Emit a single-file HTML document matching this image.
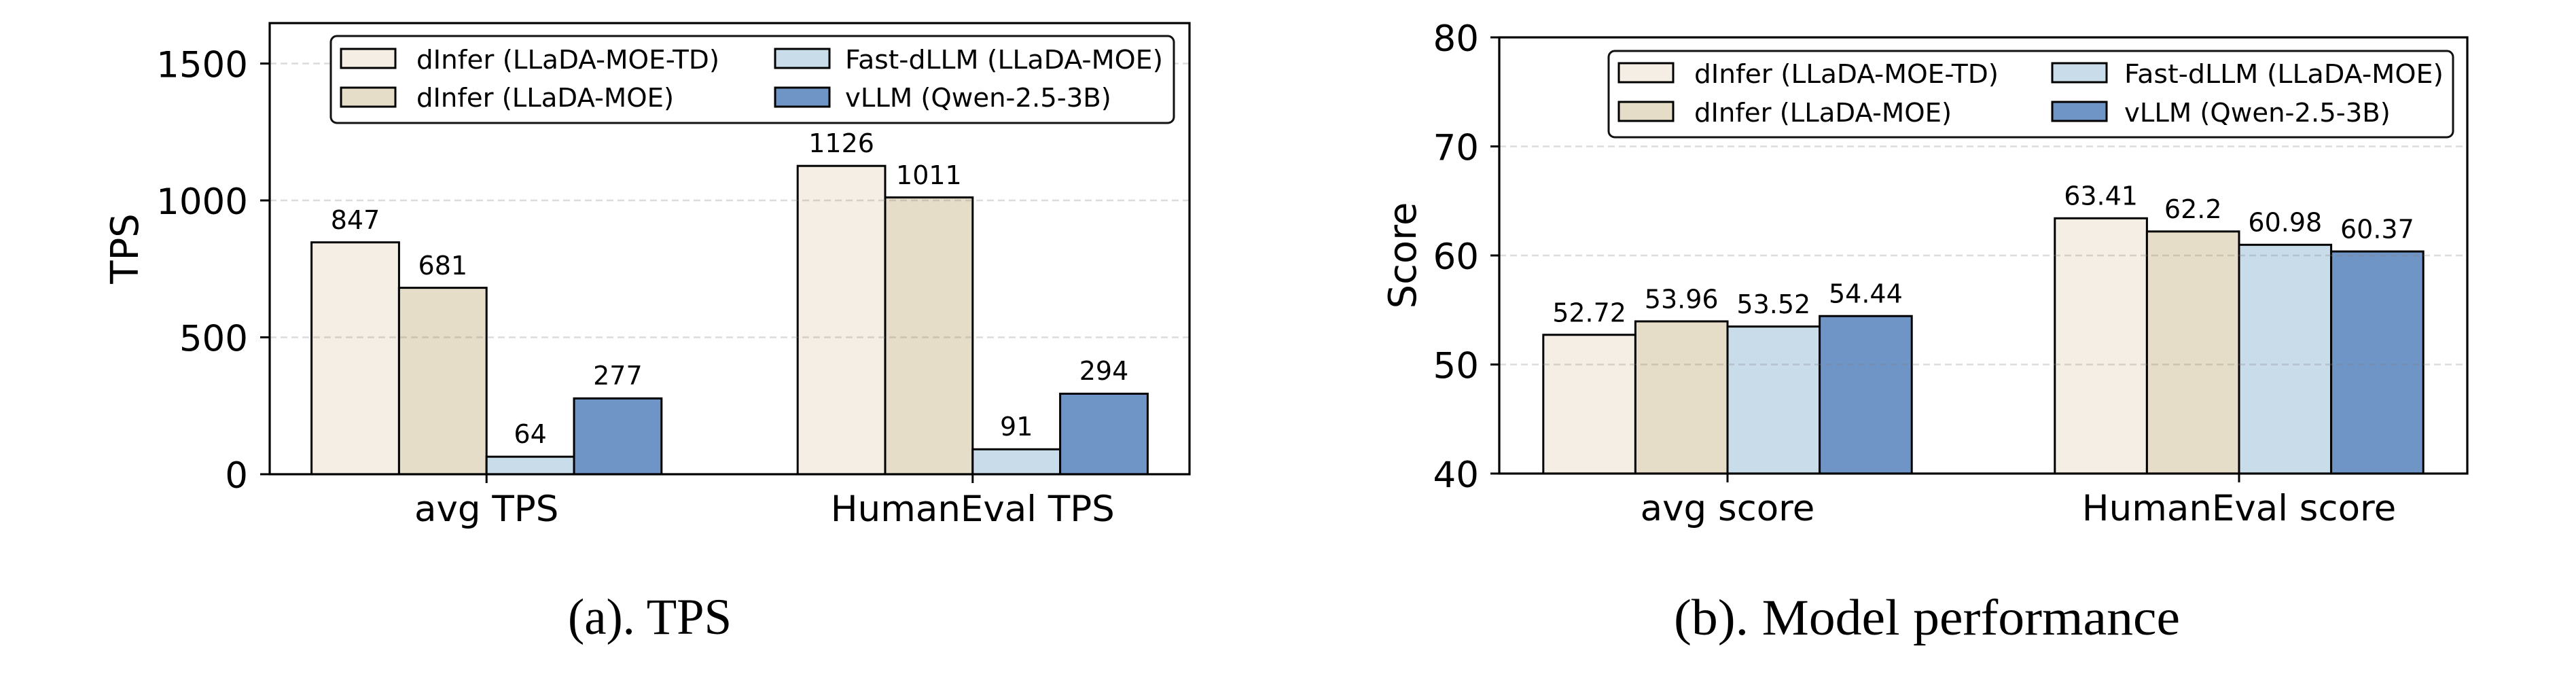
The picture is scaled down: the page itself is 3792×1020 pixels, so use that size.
<!DOCTYPE html>
<html>
<head>
<meta charset="utf-8">
<style>
  html, body { margin: 0; padding: 0; background: #ffffff; }
  svg { display: block; }
  .tk { font-family: "DejaVu Sans", "Liberation Sans", sans-serif; font-size: 53px; fill: #000; }
  .lab { font-family: "DejaVu Sans", "Liberation Sans", sans-serif; font-size: 56px; fill: #000; }
  .val { font-family: "DejaVu Sans", "Liberation Sans", sans-serif; font-size: 38px; fill: #000; text-anchor: middle; }
  .leg { font-family: "DejaVu Sans", "Liberation Sans", sans-serif; font-size: 38.6px; fill: #000; }
  .cap { font-family: "Liberation Serif", "DejaVu Serif", serif; font-size: 75px; fill: #000; }
  .grid { stroke: #808080; stroke-opacity: 0.28; stroke-width: 2.5; stroke-dasharray: 10 6; }
  .bar { stroke: #000; stroke-width: 3; }
  .c1 { fill: #f4eee4; } .c2 { fill: #e5ddc8; } .c3 { fill: #c9dcea; } .c4 { fill: #6f94c6; }
</style>
</head>
<body>
<svg width="3792" height="1020" viewBox="0 0 3792 1020" xmlns="http://www.w3.org/2000/svg">
  <rect x="0" y="0" width="3792" height="1020" fill="#fff"/>

  <!-- ================= LEFT CHART ================= -->
  <!-- bars group 0 -->
  <rect class="bar c1" x="458.6" y="356.7" width="128.8" height="341.3"/>
  <rect class="bar c2" x="587.4" y="423.6" width="128.8" height="274.4"/>
  <rect class="bar c3" x="716.2" y="672.2" width="128.8" height="25.8"/>
  <rect class="bar c4" x="845.0" y="586.4" width="128.8" height="111.6"/>
  <!-- bars group 1 -->
  <rect class="bar c1" x="1174.2" y="244.2" width="128.8" height="453.8"/>
  <rect class="bar c2" x="1303.0" y="290.6" width="128.8" height="407.4"/>
  <rect class="bar c3" x="1431.8" y="661.3" width="128.8" height="36.7"/>
  <rect class="bar c4" x="1560.6" y="579.5" width="128.8" height="118.5"/>

  <!-- grid -->
  <line class="grid" x1="397" y1="496.5" x2="1751" y2="496.5"/>
  <line class="grid" x1="397" y1="295" x2="1751" y2="295"/>
  <line class="grid" x1="397" y1="93.5" x2="1751" y2="93.5"/>

  <!-- value labels -->
  <text class="val" x="523" y="337">847</text>
  <text class="val" x="651.8" y="404">681</text>
  <text class="val" x="780.6" y="652">64</text>
  <text class="val" x="909.4" y="566">277</text>
  <text class="val" x="1238.6" y="224">1126</text>
  <text class="val" x="1367.4" y="271">1011</text>
  <text class="val" x="1496.2" y="641">91</text>
  <text class="val" x="1625" y="559">294</text>

  <!-- legend -->
  <rect x="487" y="53" width="1241" height="128" rx="9" ry="9" fill="#fff" fill-opacity="0.92" stroke="#111" stroke-width="3"/>
  <rect class="bar c1" x="502" y="72" width="80" height="28"/>
  <rect class="bar c2" x="502" y="129" width="80" height="28"/>
  <rect class="bar c3" x="1141" y="72" width="80" height="28"/>
  <rect class="bar c4" x="1141" y="129" width="80" height="28"/>
  <text class="leg" x="613" y="101" textLength="446" lengthAdjust="spacingAndGlyphs">dInfer (LLaDA-MOE-TD)</text>
  <text class="leg" x="613" y="157">dInfer (LLaDA-MOE)</text>
  <text class="leg" x="1244" y="101" textLength="468" lengthAdjust="spacingAndGlyphs">Fast-dLLM (LLaDA-MOE)</text>
  <text class="leg" x="1244" y="157">vLLM (Qwen-2.5-3B)</text>

  <!-- frame -->
  <rect x="397" y="34" width="1354" height="664" fill="none" stroke="#000" stroke-width="3.2"/>

  <!-- ticks -->
  <g stroke="#000" stroke-width="3">
    <line x1="383" y1="698" x2="397" y2="698"/>
    <line x1="383" y1="496.5" x2="397" y2="496.5"/>
    <line x1="383" y1="295" x2="397" y2="295"/>
    <line x1="383" y1="93.5" x2="397" y2="93.5"/>
    <line x1="716.2" y1="698" x2="716.2" y2="711"/>
    <line x1="1431.8" y1="698" x2="1431.8" y2="711"/>
  </g>
  <g class="tk" text-anchor="end">
    <text x="365" y="718">0</text>
    <text x="365" y="516.5">500</text>
    <text x="365" y="315">1000</text>
    <text x="365" y="113.5">1500</text>
  </g>
  <g class="tk" text-anchor="middle">
    <text x="716.2" y="767">avg TPS</text>
    <text x="1431.8" y="767">HumanEval TPS</text>
  </g>
  <text class="lab" text-anchor="middle" transform="translate(203,366) rotate(-90)">TPS</text>

  <text class="cap" x="836" y="933" textLength="241" lengthAdjust="spacingAndGlyphs">(a). TPS</text>

  <!-- ================= RIGHT CHART ================= -->
  <!-- bars group 0 -->
  <rect class="bar c1" x="2271.8" y="492.8" width="135.6" height="204.2"/>
  <rect class="bar c2" x="2407.4" y="473.0" width="135.6" height="224.0"/>
  <rect class="bar c3" x="2543.0" y="480.6" width="135.6" height="216.4"/>
  <rect class="bar c4" x="2678.6" y="465.2" width="135.6" height="231.8"/>
  <!-- bars group 1 -->
  <rect class="bar c1" x="3024.8" y="321.3" width="135.6" height="375.7"/>
  <rect class="bar c2" x="3160.4" y="340.7" width="135.6" height="356.3"/>
  <rect class="bar c3" x="3296.0" y="360.3" width="135.6" height="336.7"/>
  <rect class="bar c4" x="3431.6" y="370.1" width="135.6" height="326.9"/>

  <!-- grid -->
  <line class="grid" x1="2207" y1="536.5" x2="3632" y2="536.5"/>
  <line class="grid" x1="2207" y1="376" x2="3632" y2="376"/>
  <line class="grid" x1="2207" y1="215.5" x2="3632" y2="215.5"/>

  <!-- value labels -->
  <text class="val" x="2339.6" y="473.5">52.72</text>
  <text class="val" x="2475.2" y="453.5">53.96</text>
  <text class="val" x="2610.8" y="461">53.52</text>
  <text class="val" x="2746.4" y="445.5">54.44</text>
  <text class="val" x="3092.6" y="301.5">63.41</text>
  <text class="val" x="3228.2" y="321">62.2</text>
  <text class="val" x="3363.8" y="340.5">60.98</text>
  <text class="val" x="3499.4" y="350.5">60.37</text>

  <!-- legend -->
  <rect x="2368" y="75" width="1243" height="127" rx="9" ry="9" fill="#fff" fill-opacity="0.92" stroke="#111" stroke-width="3"/>
  <rect class="bar c1" x="2383" y="93" width="80" height="28"/>
  <rect class="bar c2" x="2383" y="150" width="80" height="28"/>
  <rect class="bar c3" x="3021" y="93" width="80" height="28"/>
  <rect class="bar c4" x="3021" y="150" width="80" height="28"/>
  <text class="leg" x="2494" y="122" textLength="448" lengthAdjust="spacingAndGlyphs">dInfer (LLaDA-MOE-TD)</text>
  <text class="leg" x="2494" y="179">dInfer (LLaDA-MOE)</text>
  <text class="leg" x="3127" y="122" textLength="470" lengthAdjust="spacingAndGlyphs">Fast-dLLM (LLaDA-MOE)</text>
  <text class="leg" x="3127" y="179">vLLM (Qwen-2.5-3B)</text>

  <!-- frame -->
  <rect x="2207" y="55" width="1425" height="642" fill="none" stroke="#000" stroke-width="3.2"/>

  <!-- ticks -->
  <g stroke="#000" stroke-width="3">
    <line x1="2194" y1="697" x2="2207" y2="697"/>
    <line x1="2194" y1="536.5" x2="2207" y2="536.5"/>
    <line x1="2194" y1="376" x2="2207" y2="376"/>
    <line x1="2194" y1="215.5" x2="2207" y2="215.5"/>
    <line x1="2194" y1="55" x2="2207" y2="55"/>
    <line x1="2543" y1="697" x2="2543" y2="710"/>
    <line x1="3296" y1="697" x2="3296" y2="710"/>
  </g>
  <g class="tk" text-anchor="end">
    <text x="2177" y="717">40</text>
    <text x="2177" y="556.5">50</text>
    <text x="2177" y="396">60</text>
    <text x="2177" y="235.5">70</text>
    <text x="2177" y="75">80</text>
  </g>
  <g class="tk" text-anchor="middle">
    <text x="2543" y="766">avg score</text>
    <text x="3296" y="766">HumanEval score</text>
  </g>
  <text class="lab" text-anchor="middle" transform="translate(2084,376) rotate(-90)">Score</text>

  <text class="cap" x="2464" y="934" textLength="745" lengthAdjust="spacingAndGlyphs">(b). Model performance</text>
</svg>
</body>
</html>
